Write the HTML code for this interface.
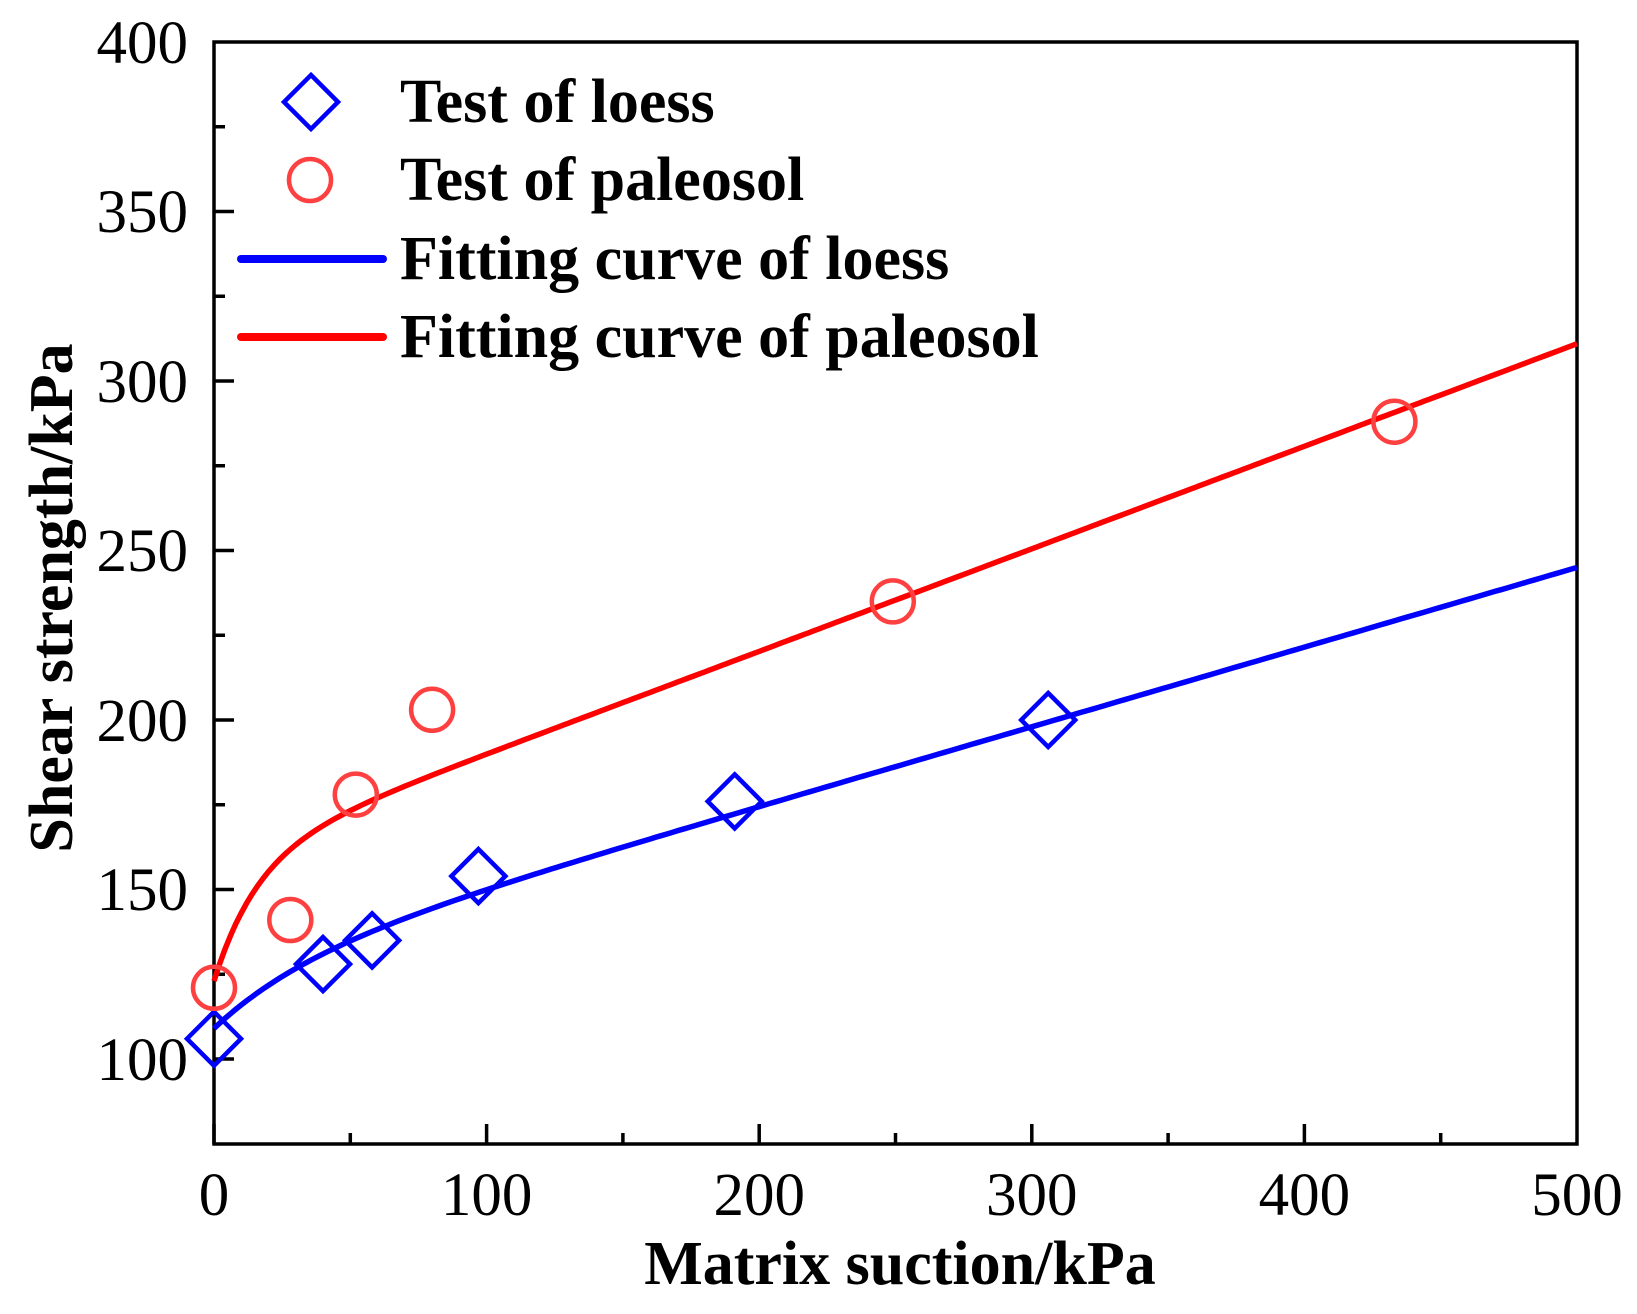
<!DOCTYPE html>
<html><head><meta charset="utf-8"><style>
html,body{margin:0;padding:0;background:#fff}
svg{display:block}
text{font-family:"Liberation Serif",serif;fill:#000}
</style></head><body>
<svg width="1637" height="1314" viewBox="0 0 1637 1314" xmlns="http://www.w3.org/2000/svg">
<rect width="1637" height="1314" fill="#fff"/>
<rect x="214" y="42" width="1363" height="1102" fill="none" stroke="#000" stroke-width="3.5"/>
<g stroke="#000" stroke-width="3.5">
<line x1="214" y1="1144" x2="214" y2="1124"/>
<line x1="350.3" y1="1144" x2="350.3" y2="1133"/>
<line x1="486.6" y1="1144" x2="486.6" y2="1124"/>
<line x1="622.9" y1="1144" x2="622.9" y2="1133"/>
<line x1="759.2" y1="1144" x2="759.2" y2="1124"/>
<line x1="895.5" y1="1144" x2="895.5" y2="1133"/>
<line x1="1031.8" y1="1144" x2="1031.8" y2="1124"/>
<line x1="1168.1" y1="1144" x2="1168.1" y2="1133"/>
<line x1="1304.4" y1="1144" x2="1304.4" y2="1124"/>
<line x1="1440.7" y1="1144" x2="1440.7" y2="1133"/>
<line x1="214" y1="126.75" x2="225" y2="126.75"/>
<line x1="214" y1="211.5" x2="234" y2="211.5"/>
<line x1="214" y1="296.25" x2="225" y2="296.25"/>
<line x1="214" y1="381" x2="234" y2="381"/>
<line x1="214" y1="465.75" x2="225" y2="465.75"/>
<line x1="214" y1="550.5" x2="234" y2="550.5"/>
<line x1="214" y1="635.25" x2="225" y2="635.25"/>
<line x1="214" y1="720" x2="234" y2="720"/>
<line x1="214" y1="804.75" x2="225" y2="804.75"/>
<line x1="214" y1="889.5" x2="234" y2="889.5"/>
<line x1="214" y1="974.25" x2="225" y2="974.25"/>
<line x1="214" y1="1059" x2="234" y2="1059"/>
</g>
<g font-size="61">
<text x="188" y="63" text-anchor="end">400</text>
<text x="188" y="232" text-anchor="end">350</text>
<text x="188" y="402" text-anchor="end">300</text>
<text x="188" y="571" text-anchor="end">250</text>
<text x="188" y="741" text-anchor="end">200</text>
<text x="188" y="910" text-anchor="end">150</text>
<text x="188" y="1080" text-anchor="end">100</text>
<g text-anchor="middle">
<text x="214" y="1215">0</text>
<text x="486.6" y="1215">100</text>
<text x="759.2" y="1215">200</text>
<text x="1031.8" y="1215">300</text>
<text x="1304.4" y="1215">400</text>
<text x="1577" y="1215">500</text>
</g>
</g>
<path id="lo" fill="none" stroke="#0000ff" stroke-width="5.5"/>
<path id="pa" fill="none" stroke="#ff0000" stroke-width="5.5"/>
<g fill="none" stroke="#0000ff" stroke-width="4.5">
<path d="M214 1011.7 L241 1038.7 L214 1065.7 L187 1038.7 Z"/>
<path d="M323 937.1 L350 964.1 L323 991.1 L296 964.1 Z"/>
<path d="M372.1 913.4 L399.1 940.4 L372.1 967.4 L345.1 940.4 Z"/>
<path d="M478.4 849.1 L505.4 876.1 L478.4 903.1 L451.4 876.1 Z"/>
<path d="M734.7 774.4 L761.7 801.4 L734.7 828.4 L707.7 801.4 Z"/>
<path d="M1048.2 693 L1075.2 720 L1048.2 747 L1021.2 720 Z"/>
</g>
<g fill="none" stroke="#ff4040" stroke-width="4.5">
<circle cx="214" cy="987.8" r="21"/>
<circle cx="290.3" cy="920" r="21"/>
<circle cx="355.8" cy="794.6" r="21"/>
<circle cx="432.1" cy="709.8" r="21"/>
<circle cx="892.8" cy="601.4" r="21"/>
<circle cx="1394.4" cy="421.7" r="21"/>
</g>
<path d="M311 75 L338 102 L311 129 L284 102 Z" fill="none" stroke="#0000ff" stroke-width="4.5"/>
<circle cx="310" cy="180" r="21" fill="none" stroke="#ff4040" stroke-width="4.5"/>
<line x1="241" y1="259" x2="383" y2="259" stroke="#0000ff" stroke-width="8" stroke-linecap="round"/>
<line x1="241" y1="337" x2="383" y2="337" stroke="#ff0000" stroke-width="8" stroke-linecap="round"/>
<g font-size="62" font-weight="bold">
<text x="400" y="122">Test of loess</text>
<text x="400" y="200">Test of paleosol</text>
<text x="400" y="279">Fitting curve of loess</text>
<text x="400" y="357">Fitting curve of paleosol</text>
</g>
<text x="900" y="1284" font-size="62" font-weight="bold" text-anchor="middle">Matrix suction/kPa</text>
<text transform="translate(72,598) rotate(-90)" font-size="62" font-weight="bold" text-anchor="middle">Shear strength/kPa</text>
<script>
var X=function(v){return 214+v*2.726},Y=function(v){return 42+(400-v)*3.39};
function path(f){var d='';for(var x=0;x<=500;x+=2){d+=(x?'L':'M')+X(x).toFixed(1)+' '+Y(f(x)).toFixed(1);}return d;}
document.getElementById('lo').setAttribute('d',path(function(x){return 109+18.5*(1-Math.exp(-x/35))+0.235*x}));
document.getElementById('pa').setAttribute('d',path(function(x){return 123+36.75*(1-Math.exp(-x/16))+0.3025*x}));
</script>
</svg>
</body></html>
